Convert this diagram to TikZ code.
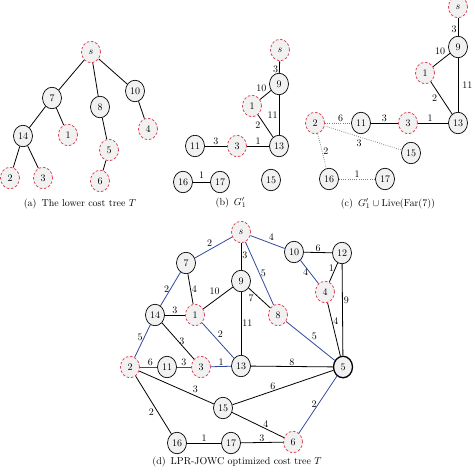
\documentclass[tikz,border=0pt]{standalone}
\usetikzlibrary{shapes.geometric}
\definecolor{vred}{RGB}{222,72,92}
\definecolor{tblue}{RGB}{50,72,158}
\definecolor{vfill}{RGB}{241,241,241}
\begin{document}
\begin{tikzpicture}[x=1pt,y=-1pt,
  vtx/.style={ellipse,draw,fill=vfill,inner sep=0pt,minimum width=19pt,minimum height=21.5pt,line width=0.7pt},
  hit/.style={vtx,draw=vred,dash pattern=on 2.6pt off 1.8pt,line width=0.8pt},
  wt/.style={inner sep=1pt},
  link/.style={line width=0.8pt},
  tree/.style={link,draw=tblue},
  live/.style={link,draw=black!50,dash pattern=on 0.8pt off 1.4pt}]
\useasboundingbox (0,0) rectangle (474,476);
% (a)
\foreach \n/\x/\y in {s/91/52,1/68/135,4/148/129,5/109/150,2/10/178,3/43/178,6/100/181} {
  \node[hit] (a\n) at (\x,\y) {$\n$};
}
\foreach \n/\x/\y in {7/52/98,8/100/107,10/135/91,14/23/136} {
  \node[vtx] (a\n) at (\x,\y) {$\n$};
}
\foreach \u/\v in {s/7,s/8,s/10,7/14,7/1,14/2,14/3,8/5,5/6,10/4} {
  \draw[link] (a\u) -- (a\v);
}
\node (capA) at (80,204) {(a)\enspace The lower cost tree $T$};
% (b)
\foreach \n/\x/\y in {s/280/50,1/252/106,3/237/146} {
  \node[hit] (b\n) at (\x,\y) {$\n$};
}
\foreach \n/\x/\y in {9/279/84,13/279/146,11/195/146,16/183/182,17/220/182,15/271/180} {
  \node[vtx] (b\n) at (\x,\y) {$\n$};
}
\foreach \u/\v/\w/\p/\q/\d in {s/9/3/left/.65/0pt,9/1/10/above left/.3/0pt,9/13/11/left/.5/0pt,1/13/2/left/.45/3pt,
  11/3/3/above/.5/0pt,3/13/1/above/.5/0pt,16/17/1/above/.5/2pt} {
  \draw[link] (b\u) -- node[wt,pos=\q,\p=\d] {$\w$} (b\v);
}
\node (capB) at (231,203) {(b)\enspace$G_1'$};
% (c)
\foreach \n/\x/\y in {s/458/7,1/425/73,3/408/123,2/315/123} {
  \node[hit] (c\n) at (\x,\y) {$\n$};
}
\foreach \n/\x/\y in {9/458/47,13/458/123,11/361/123,15/411/153,16/329/179,17/385/179} {
  \node[vtx] (c\n) at (\x,\y) {$\n$};
}
\foreach \u/\v/\w/\p/\q/\d in {s/9/3/left/.65/0pt,9/1/10/above left/.2/0pt,9/13/11/right/.5/3pt,1/13/2/left/.5/3pt,
  11/3/3/above/.5/0pt,3/13/1/above/.4/0pt} {
  \draw[link] (c\u) -- node[wt,pos=\q,\p=\d] {$\w$} (c\v);
}
\foreach \u/\v/\w/\p/\q/\d in {2/11/6/above/.6/0pt,2/16/2/right/.5/0pt,2/15/3/below/.45/2pt,16/17/1/above/.5/0pt} {
  \draw[live] (c\u) -- node[wt,pos=\q,\p=\d] {$\w$} (c\v);
}
\node (capC) at (388,204) {(c)\enspace$G_1'\cup\mathrm{Live}(\mathrm{Far}(7))$};
% (d)
\foreach \n/\x/\y in {s/241/232,1/195/315,8/278/315,4/325/292,2/130/367,3/201/367,6/293/442} {
  \node[hit] (d\n) at (\x,\y) {$\n$};
}
\foreach \n/\x/\y in {7/186/263,9/241/281,10/294/252,12/342/253,14/155/315,11/167/367,13/241/366,15/223/408,16/177/443,17/231/443} {
  \node[vtx] (d\n) at (\x,\y) {$\n$};
}
\node[vtx,line width=1.3pt] (d5) at (343,367) {$5$};
\foreach \u/\v/\w/\p/\q in {s/9/3/right/.45,10/12/6/above/.5,12/4/1/left/.3,12/5/9/right/.4,4/5/4/right/.35,
  7/1/4/right/.5,9/1/10/above left/.4,9/8/7/below left/.3,9/13/11/right/.5,14/1/3/above/.5,
  14/3/3/right/.5,13/5/8/above/.5,2/15/3/above right/.7,2/16/2/below left/.55,15/5/6/above/.4,
  15/6/4/above/.65,16/17/1/above/.5,17/6/3/above/.5} {
  \draw[link] (d\u) -- node[wt,pos=\q,\p] {$\w$} (d\v);
}
\foreach \u/\v/\w/\p/\q in {s/7/2/above left/.5,s/10/4/above right/.5,s/8/5/right/.5,10/4/4/left/.5,
  7/14/2/left/.5,14/2/5/left/.4,2/11/6/above/.6,11/3/3/above/.5,3/13/1/above/.5,1/13/2/above right/.45,
  8/5/5/above right/.5,5/6/2/left/.5} {
  \draw[tree] (d\u) -- node[wt,pos=\q,\p] {$\w$} (d\v);
}
\node (capD) at (237,462) {(d)\enspace LPR-JOWC optimized cost tree $T$};
\end{tikzpicture}
\end{document}
